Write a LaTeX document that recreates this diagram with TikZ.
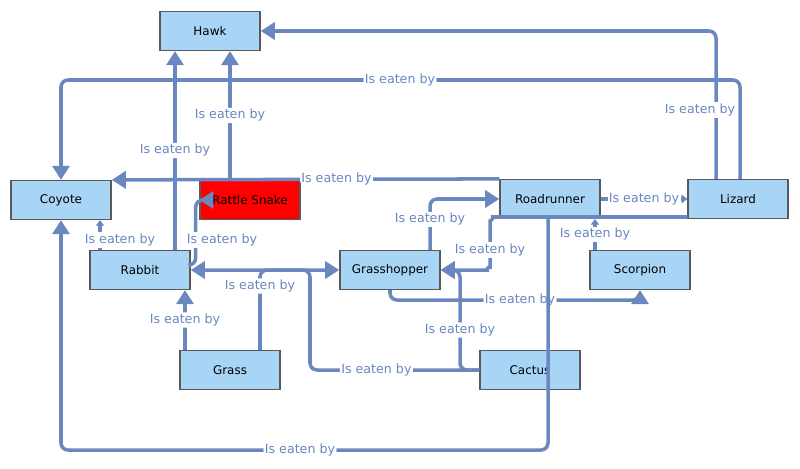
\documentclass[tikz,border=0pt]{standalone}
\usepackage{fontspec}
\setmainfont{DejaVu Sans}
\usetikzlibrary{arrows.meta}
\definecolor{linkblue}{RGB}{106,135,192}
\definecolor{boxblue}{RGB}{168,212,245}
\begin{document}
\begin{tikzpicture}[x=0.025cm,y=-0.025cm]
        \tikzstyle{animal} = [rectangle, minimum width=2.5cm, minimum height=0.97cm, text centered, draw=black!65, line width=1pt, fill=boxblue, font=\fontsize{8.5}{10}\selectfont];
        \tikzstyle{link} = [draw=linkblue, line width=2.5pt, rounded corners=5pt, -{Triangle[length=10pt,width=12pt]}];
        \tikzstyle{smalllink} = [draw=linkblue, line width=2.5pt, -{Triangle[length=4pt,width=6pt]}];
        \tikzstyle{eaten} = [fill=white, text=linkblue, inner sep=1pt, font=\fontsize{9}{10}\selectfont];

        \useasboundingbox (0,0) rectangle (800,468);

        \node(hawk) [animal] at (210,31) {Hawk};
        \node(coyote) [animal] at (61,200) {Coyote};
        \node(snake) [animal, fill=red] at (250,200) {Rattle Snake};
        \node(roadrunner) [animal] at (550,199) {Roadrunner};
        \node(lizard) [animal] at (738,199) {Lizard};
        \node(rabbit) [animal] at (140,270) {Rabbit};
        \node(grasshopper) [animal] at (390,270) {Grasshopper};
        \node(scorpion) [animal] at (640,270) {Scorpion};
        \node(grass) [animal] at (230,370) {Grass};
        \node(cactus) [animal] at (530,370) {Cactus};

        \draw[link] (lizard.north -| 716,0) |- (hawk.east);
        \node[eaten] at (700,110) {Is eaten by};
        \draw[link] (lizard.north -| 740,0) |- (400,80) node[eaten] {Is eaten by} -| (coyote.north);
        \draw[link] (snake.north -| 230,0) -- (hawk.south -| 230,0) node[eaten, midway] {Is eaten by};
        \draw[link] (rabbit.north -| 175,0) -- (hawk.south -| 175,0) node[eaten, pos=0.5] {Is eaten by};
        \draw[link] (roadrunner.north west) -- (coyote.north east) node[eaten, pos=0.42] {Is eaten by};
        \draw[smalllink] (rabbit.north -| 100,0) -- (coyote.south -| 100,0);
        \node[eaten] at (120,240) {Is eaten by};
        \draw[link] (rabbit.east |- 0,265) -- ++(5,0) |- (snake.west);
        \node[eaten] at (222,240) {Is eaten by};
        \draw[link] (grass.north -| 185,0) -- (rabbit.south -| 185,0) node[eaten, midway] {Is eaten by};
        \draw[link] (grass.north -| 260,0) |- (grasshopper.west) node[eaten, pos=0.4] {Is eaten by};
        \draw[link] (cactus.west) -| (310,270) node[eaten, pos=0.2, xshift=-25pt] {Is eaten by} -- (rabbit.east);
        \draw[link] (cactus.west) -| (460,270) node[eaten, pos=0.7] {Is eaten by} -- (grasshopper.east);
        \draw[link, {Triangle[length=10pt,width=12pt]}-] (grasshopper.east) -- (480,270) to[out=0,in=-90] (490,260) -- (490,228) to[out=90,in=180] (500,217) -- (lizard.south west |- 0,217);
        \node[eaten] at (490,250) {Is eaten by};
        \draw[link] (grasshopper.north -| 430,0) |- (roadrunner.west) node[eaten, pos=0.3] {Is eaten by};
        \draw[link] (grasshopper.south) |- (520,300) node[eaten] {Is eaten by} -| (scorpion.south);
        \draw[smalllink] (scorpion.north -| 595,0) -- (roadrunner.south -| 595,0) node[eaten, midway] {Is eaten by};
        \draw[smalllink] (roadrunner.east) -- (lizard.west) node[eaten, midway] {Is eaten by};
        \draw[link] (roadrunner.south -| 548,0) |- (300,450) node[eaten] {Is eaten by} -| (coyote.south);

\end{tikzpicture}
\end{document}
